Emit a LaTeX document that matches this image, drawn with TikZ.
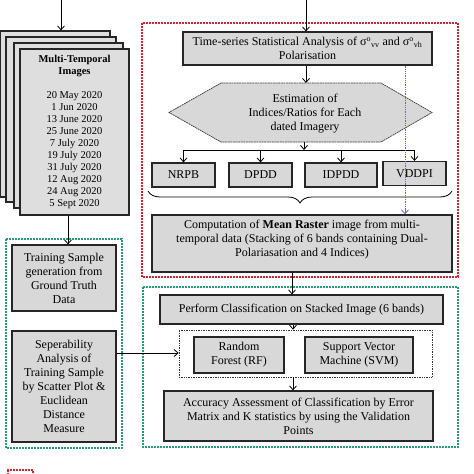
\documentclass[tikz,border=0pt]{standalone}
\usepackage{fontspec}
\setmainfont{Liberation Serif}
\usetikzlibrary{arrows.meta,decorations.pathreplacing,calc}
\definecolor{boxgray}{RGB}{216,216,216}
\definecolor{sheetgray}{RGB}{222,222,222}
\definecolor{redd}{RGB}{200,40,50}
\definecolor{greend}{RGB}{40,155,115}
\definecolor{purpled}{RGB}{120,95,170}
\tikzset{
  box/.style={draw=black!85, line width=1.2pt, fill=boxgray, align=center, inner sep=0pt, font=\fontsize{12}{14}\selectfont},
  sheet/.style={draw=black!85, line width=1.1pt, fill=sheetgray, inner sep=0pt},
  arr/.style={line width=0.8pt, -{Straight Barb[length=4pt,width=7pt]}},
  conn/.style={line width=0.8pt},
  reddash/.style={draw=redd, line width=1.2pt, dash pattern=on 2pt off 1pt},
  greendash/.style={draw=greend, line width=1.2pt, dash pattern=on 2pt off 1pt},
  hexline/.style={draw=black!75, line width=0.7pt, fill=boxgray},
  lbl/.style={align=center, inner sep=0pt, font=\fontsize{12}{14}\selectfont}
}
\begin{document}
\begin{tikzpicture}[x=1pt,y=-1pt]
\useasboundingbox (0,0) rectangle (474,474);
% group frames
\draw[greendash] (6,239) rectangle (122,448);
\draw[reddash] (142,23) rectangle (458,277);
\draw[greendash] (143,287) rectangle (458,447);
\draw[reddash] (8,474.5) -- (8,470) -- (33,470) -- (33,474.5);
% stack of images
\node[sheet, minimum width=110, minimum height=166] (sheet1) at (55,114) {};
\node[sheet, minimum width=110, minimum height=165] (sheet2) at (61,119.5) {};
\node[sheet, minimum width=109, minimum height=165] (sheet3) at (68.5,125.5) {};
\node[sheet, minimum width=109, minimum height=166, align=center, font=\fontsize{10.5}{12}\selectfont] (images) at (74.5,132)
 {\textbf{Multi-Temporal}\\\textbf{Images}\\[12pt]20 May 2020\\1 Jun 2020\\13 June 2020\\25 June 2020\\7 July 2020\\19 July 2020\\31 July 2020\\12 Aug 2020\\24 Aug 2020\\5 Sept 2020};
\coordinate (topin) at (61,0);
\draw[arr] (topin) -- (topin |- sheet1.north);
% left column
\node[box, minimum width=104, minimum height=66] (train) at (64,278)
 {Training Sample\\generation from\\Ground Truth\\Data};
\node[box, minimum width=104, minimum height=111] (sep) at (64,386.5)
 {Seperability\\Analysis of\\Training Sample\\by Scatter Plot \&\\Euclidean\\Distance\\Measure};
\coordinate (tarrow) at (68,0);
\draw[arr] (images.south -| tarrow) -- (train.north -| tarrow);
% red group
\coordinate (rtop) at (306,0);
\node[box, minimum width=249, minimum height=33] (time) at (307.5,48.5)
 {Time-series Statistical Analysis of σ\textsuperscript{o}\textsubscript{vv} and σ\textsuperscript{o}\textsubscript{vh}\\Polarisation};
\draw[arr] (rtop) -- (rtop |- time.north);
\draw[hexline, dash pattern=on 2pt off 0.6pt] (221,83) -- (381,83) -- (432,112.5) -- (381,142) -- (221,142) -- (169,112.5) -- cycle;
\node[lbl] (hex) at (305,114) {Estimation of\\Indices/Ratios for Each\\dated Imagery};
\coordinate (hextop) at (306,83);
\coordinate (hexbot) at (304,142);
\coordinate (bus) at (304,150);
\draw[arr] (time.south -| hextop) -- (hextop);
\node[box, minimum width=63, minimum height=24] (nrpb) at (183.5,175) {NRPB};
\node[box, minimum width=63, minimum height=24] (dpdd) at (260.5,175) {DPDD};
\node[box, minimum width=72, minimum height=24] (idpdd) at (341,175) {IDPDD};
\node[box, minimum width=63, minimum height=24] (vddpi) at (414.5,173.5) {VDDPI};
\draw[conn] (nrpb.north |- bus) -- (vddpi.north |- bus);
\draw[arr] (hexbot) -- (bus);
\foreach \n in {nrpb,dpdd,idpdd,vddpi} \draw[arr] (\n.north |- bus) -- (\n.north);
\node[box, minimum width=300, minimum height=57] (comp) at (302,243.5)
 {\raisebox{0pt}[\height][\depth]{}Computation of \textbf{Mean Raster} image from multi-\\temporal data (Stacking of 6 bands containing Dual-\\Polariasation and 4 Indices)\\[-4pt]\mbox{}};
\draw[line width=0.8pt, decorate, decoration={brace, mirror, amplitude=12pt}] (148,191) -- (452,191);
\coordinate (purp) at (405,0);
\draw[draw=purpled, line width=0.8pt, densely dotted] (time.south -| purp) -- ($(comp.north -| purp)+(0,-4)$);
\draw[draw=purpled, line width=0.8pt, -{Straight Barb[length=4pt,width=7pt]}] ($(comp.north -| purp)+(0,-5)$) -- (comp.north -| purp);
% green group
\coordinate (garr) at (292,0);
\node[box, minimum width=283, minimum height=29] (perform) at (301.5,309.5)
 {Perform Classification on Stacked Image (6 bands)};
\draw[arr] (comp.south -| garr) -- (perform.north -| garr);
\node[draw=black!80, line width=0.7pt, densely dotted, minimum width=253, minimum height=47, inner sep=0pt] (classif) at (305.5,353.5) {};
\node[box, minimum width=90, minimum height=36] (rf) at (239,355) {Random\\Forest (RF)};
\node[box, minimum width=108, minimum height=36] (svm) at (359,355) {Support Vector\\Machine (SVM)};
\coordinate (carr) at (293,0);
\draw[arr] (perform.south -| carr) -- (classif.north -| carr);
\node[box, minimum width=269, minimum height=50] (acc) at (298.5,416)
 {Accuracy Assessment of Classification by Error\\Matrix and K statistics by using the Validation\\Points};
\draw[arr] (classif.south -| carr) -- (acc.north -| carr);
\coordinate (sepy) at (0,353);
\draw[arr] (sep.east |- sepy) -- (classif.west |- sepy);
\end{tikzpicture}
\end{document}
